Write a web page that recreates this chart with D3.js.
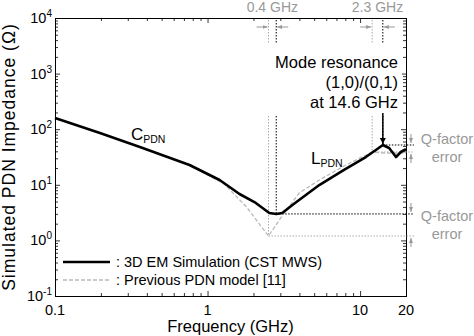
<!DOCTYPE html>
<html>
<head>
<meta charset="utf-8">
<script src="https://cdn.jsdelivr.net/npm/d3@7"></script>
<style>
  body { margin: 0; background: #fff; }
  svg { font-family: "Liberation Sans", Arial, sans-serif; }
</style>
</head>
<body>
<svg id="chart" width="474" height="336"></svg>
<script>
// 3D EM simulation (black), frequency in GHz, impedance in ohm
var emFreq = [0.1, 0.197, 0.36, 0.762, 1.2, 1.62, 2.03, 2.54, 2.82, 3.09, 3.6, 5.4, 7.85, 10.9, 12.7, 14.1, 15.5, 17.2, 18.5, 20]
var emZ    = [159, 85.5, 47.9, 22.7, 12.2, 6.83, 4.9, 3.11, 2.99, 3.11, 4.33, 9.9, 18.5, 31.6, 42.3, 52, 45.9, 31.6, 38.9, 44]

// previous PDN model (gray dashed)
var pdnFreq = [0.1, 0.197, 0.36, 0.762, 1.29, 1.8, 2.19, 2.51, 3.05, 3.99, 5.4, 7.85, 10.6, 12, 14.4, 20]
var pdnZ    = [159, 85.5, 47.9, 22.7, 10.3, 3.99, 1.97, 1.2, 2.64, 7.13, 12.2, 21.8, 33, 38.9, 37.3, 37.3]

// resonance markers
var resGray = [2.51, 12]      // model resonances
var resBlack = [2.82, 14.1]   // simulation resonances
var levelBlack = [2.99, 52]   // simulated min / peak
var levelGray = [1.2, 38.9]   // model min / peak

var xTickVals = [0.1, 1, 10, 20]
var xTickLabels = ['0.1', '1', '10', '20']
var yTickExp = [-1, 0, 1, 2, 3, 4]

var margin = {left: 55, right: 68, top: 18, bottom: 40}
var width = 474, height = 336

var svg = d3.select('#chart')

var x = d3.scaleLog().domain([0.1, 20]).range([margin.left, width - margin.right])
var y = d3.scaleLog().domain([0.1, 1e4]).range([height - margin.bottom, margin.top])

var x0 = x.range()[0], x1 = x.range()[1]
var y0 = y.range()[0], y1 = y.range()[1]

var defs = svg.append('defs')
defs.append('marker').attr('id', 'hgray')
    .attr('viewBox', '0 0 10 10').attr('refX', 10).attr('refY', 5)
    .attr('markerWidth', 5).attr('markerHeight', 5).attr('orient', 'auto')
  .append('path').attr('d', 'M0,1L10,5L0,9Z').attr('fill', '#999')
defs.append('marker').attr('id', 'hblack')
    .attr('viewBox', '0 0 10 10').attr('refX', 10).attr('refY', 5)
    .attr('markerWidth', 4).attr('markerHeight', 4).attr('orient', 'auto')
  .append('path').attr('d', 'M0,0L10,5L0,10Z').attr('fill', '#000')

// ticks
var minorX = [], minorY = []
;[0.1, 1, 10].forEach(function(d) { for (var k = 2; k <= 9; k++) if (d * k < 20) minorX.push(d * k) })
yTickExp.forEach(function(e) { if (e < 4) for (var k = 2; k <= 9; k++) minorY.push(k * Math.pow(10, e)) })
var majorX = [0.1, 1, 10]
var majorY = yTickExp.map(function(e) { return Math.pow(10, e) })

function tickStyle(g) {
  g.select('.domain').remove()
  g.selectAll('.tick line').attr('stroke', '#000').attr('stroke-width', 0.8)
}

svg.append('g').attr('transform', `translate(0,${y0})`)
    .call(d3.axisBottom(x).tickValues(minorX).tickSize(-3).tickFormat('')).call(tickStyle)
svg.append('g').attr('transform', `translate(0,${y0})`)
    .call(d3.axisBottom(x).tickValues(majorX).tickSize(-5).tickFormat('')).call(tickStyle)
svg.append('g').attr('transform', `translate(0,${y1})`)
    .call(d3.axisTop(x).tickValues(minorX).tickSize(-3).tickFormat('')).call(tickStyle)
svg.append('g').attr('transform', `translate(0,${y1})`)
    .call(d3.axisTop(x).tickValues(majorX).tickSize(-5).tickFormat('')).call(tickStyle)
svg.append('g').attr('transform', `translate(${x0},0)`)
    .call(d3.axisLeft(y).tickValues(minorY).tickSize(-3).tickFormat('')).call(tickStyle)
svg.append('g').attr('transform', `translate(${x0},0)`)
    .call(d3.axisLeft(y).tickValues(majorY).tickSize(-5).tickFormat('')).call(tickStyle)
svg.append('g').attr('transform', `translate(${x1},0)`)
    .call(d3.axisRight(y).tickValues(minorY).tickSize(-3).tickFormat('')).call(tickStyle)
svg.append('g').attr('transform', `translate(${x1},0)`)
    .call(d3.axisRight(y).tickValues(majorY).tickSize(-5).tickFormat('')).call(tickStyle)

// frame
svg.append('rect').attr('x', x0 + 0.5).attr('y', y1 + 0.5)
    .attr('width', x1 - x0).attr('height', y0 - y1)
    .attr('fill', 'none').attr('stroke', '#000').attr('stroke-width', 1)

// tick labels
svg.append('g').selectAll('text').data(xTickVals).join('text')
    .attr('x', d => x(d)).attr('y', y0 + 19)
    .attr('text-anchor', 'middle').attr('font-size', 14.5)
    .text((d, i) => xTickLabels[i])

var yl = svg.append('g').selectAll('text').data(yTickExp).join('text')
    .attr('x', x0 - 3).attr('y', d => y(Math.pow(10, d)) + 5)
    .attr('text-anchor', 'end').attr('font-size', 14.5)
yl.append('tspan').text('10')
yl.append('tspan').attr('dy', -6).attr('font-size', 10).text(d => d)

// axis titles
svg.append('text').attr('x', (x0 + x1) / 2).attr('y', height - 4)
    .attr('text-anchor', 'middle').attr('font-size', 16.5).text('Frequency (GHz)')
svg.append('text')
    .attr('transform', `translate(15,${(y0 + y1) / 2}) rotate(-90)`)
    .attr('text-anchor', 'middle').attr('font-size', 17.5).attr('letter-spacing', 1)
    .text('Simulated PDN Impedance (\u03a9)')

// resonance vertical guides
var dotted = '1.5,1.5'
resGray.forEach(function(f, i) {
  svg.append('line').attr('x1', x(f)).attr('x2', x(f))
      .attr('y1', y1 + 2).attr('y2', y(levelGray[i]))
      .attr('stroke', '#aaa').attr('stroke-width', 1).attr('stroke-dasharray', dotted)
})
resBlack.forEach(function(f, i) {
  svg.append('line').attr('x1', x(f)).attr('x2', x(f))
      .attr('y1', y1 + 2).attr('y2', y(levelBlack[i]))
      .attr('stroke', '#000').attr('stroke-width', 1).attr('stroke-dasharray', dotted)
})
// horizontal level guides out past the axis
levelGray.forEach(function(v, i) {
  svg.append('line').attr('x1', x(resGray[i])).attr('x2', x1 + 8)
      .attr('y1', y(v)).attr('y2', y(v))
      .attr('stroke', '#aaa').attr('stroke-width', 1).attr('stroke-dasharray', dotted)
})
levelBlack.forEach(function(v, i) {
  svg.append('line').attr('x1', x(resBlack[i])).attr('x2', x1 + 8)
      .attr('y1', y(v)).attr('y2', y(v))
      .attr('stroke', '#000').attr('stroke-width', 1).attr('stroke-dasharray', dotted)
})

// curves
var line = d3.line().x(d => x(d[0])).y(d => y(d[1]))
svg.append('path').datum(d3.zip(pdnFreq, pdnZ))
    .attr('d', line).attr('fill', 'none')
    .attr('stroke', '#bbb').attr('stroke-width', 1.3).attr('stroke-dasharray', '4,2')
svg.append('path').datum(d3.zip(emFreq, emZ))
    .attr('d', line).attr('fill', 'none')
    .attr('stroke', '#000').attr('stroke-width', 2.6).attr('stroke-linejoin', 'round')

// top arrows and GHz labels
var topLabels = ['0.4 GHz', '2.3 GHz']
resGray.forEach(function(f, i) {
  var ay = y1 + 9
  svg.append('line').attr('x1', x(f) - 12).attr('x2', x(f) - 1).attr('y1', ay).attr('y2', ay)
      .attr('stroke', '#999').attr('stroke-width', 1).attr('marker-end', 'url(#hgray)')
  svg.append('line').attr('x1', x(resBlack[i]) + 12).attr('x2', x(resBlack[i]) + 1).attr('y1', ay).attr('y2', ay)
      .attr('stroke', '#999').attr('stroke-width', 1).attr('marker-end', 'url(#hgray)')
  svg.append('text').attr('x', (x(f) + x(resBlack[i])) / 2).attr('y', 12)
      .attr('text-anchor', 'middle').attr('font-size', 14).attr('fill', '#999')
      .text(topLabels[i])
})

// mode resonance note
svg.append('rect').attr('x', 262).attr('y', 44).attr('width', 140).attr('height', 72).attr('fill', '#fff')
var note = ['Mode resonance', '(1,0)/(0,1)', 'at 14.6 GHz']
svg.append('g').selectAll('text').data(note).join('text')
    .attr('x', 398).attr('y', (d, i) => 68 + i * 20)
    .attr('text-anchor', 'end').attr('font-size', 16.5).text(d => d)
svg.append('line').attr('x1', x(resBlack[1])).attr('x2', x(resBlack[1]))
    .attr('y1', 113).attr('y2', y(levelBlack[1]) - 1)
    .attr('stroke', '#000').attr('stroke-width', 1.5).attr('marker-end', 'url(#hblack)')

// C_PDN, L_PDN labels
var cl = svg.append('text').attr('x', 131).attr('y', 140).attr('font-size', 17)
cl.append('tspan').text('C')
cl.append('tspan').attr('font-size', 10.5).attr('dy', 3).text('PDN')
var ll = svg.append('text').attr('x', 311).attr('y', 164).attr('font-size', 17)
ll.append('tspan').text('L')
ll.append('tspan').attr('font-size', 10.5).attr('dy', 3).text('PDN')

// Q-factor error notes on right
var ax = x1 + 5
levelBlack.forEach(function(v, i) {
  var yb = y(v), yg = y(levelGray[i])
  svg.append('line').attr('x1', ax).attr('x2', ax).attr('y1', yb - 11).attr('y2', yb - 2)
      .attr('stroke', '#999').attr('stroke-width', 1).attr('marker-end', 'url(#hgray)')
  svg.append('line').attr('x1', ax).attr('x2', ax).attr('y1', yg + 11).attr('y2', yg + 2)
      .attr('stroke', '#999').attr('stroke-width', 1).attr('marker-end', 'url(#hgray)')
  var cy = (yb + yg) / 2
  svg.append('text').attr('x', 447).attr('y', cy - 4)
      .attr('text-anchor', 'middle').attr('font-size', 14.5).attr('fill', '#999').text('Q-factor')
  svg.append('text').attr('x', 447).attr('y', cy + 14)
      .attr('text-anchor', 'middle').attr('font-size', 14.5).attr('fill', '#999').text('error')
})

// legend
svg.append('line').attr('x1', 63).attr('x2', 110).attr('y1', 262).attr('y2', 262)
    .attr('stroke', '#000').attr('stroke-width', 2.6)
svg.append('line').attr('x1', 63).attr('x2', 110).attr('y1', 280).attr('y2', 280)
    .attr('stroke', '#bbb').attr('stroke-width', 1.3).attr('stroke-dasharray', '4,2')
svg.append('text').attr('x', 116).attr('y', 267).attr('font-size', 14.5).text(': 3D EM Simulation (CST MWS)')
svg.append('text').attr('x', 116).attr('y', 285).attr('font-size', 14.5).text(': Previous PDN model [11]')
</script>
</body>
</html>
